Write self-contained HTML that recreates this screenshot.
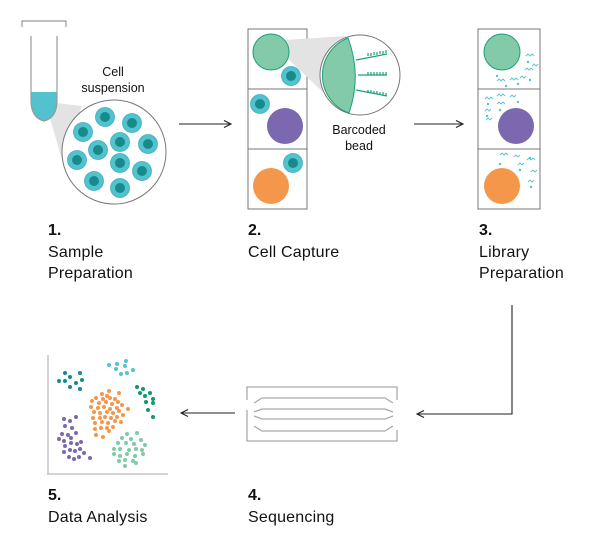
<!DOCTYPE html>
<html><head><meta charset="utf-8"><style>
html,body{margin:0;padding:0;background:#fff;}
svg{display:block}
text{font-family:"Liberation Sans",sans-serif;fill:#111}
.l{font-size:16px;letter-spacing:0.2px}
.b{font-size:16px;font-weight:bold}
.s{font-size:12.5px}
</style></head><body>
<svg width="600" height="551" viewBox="0 0 600 551" xmlns="http://www.w3.org/2000/svg">
<defs>
<marker id="ar" markerWidth="10" markerHeight="10" refX="8" refY="4" orient="auto" markerUnits="userSpaceOnUse"><path d="M1,0.5 L8,4 L1,7.5" fill="none" stroke="#222" stroke-width="1.1"/></marker>
<g id="cell"><circle r="9.5" fill="#52c3ce" stroke="#3fb0bb" stroke-width="0.8"/><circle r="5" fill="#178a8c"/></g>
</defs>

<!-- Panel 1 -->
<path d="M22,27 V21 H66 V27" fill="none" stroke="#999" stroke-width="1.2"/>
<polygon points="46,104 56,103 82,106 62,160" fill="#e3e3e3"/>
<path d="M31,92 H57 V100 Q57,118 44,121 Q31,118 31,100 Z" fill="#52c3ce"/>
<path d="M31,36 V100 Q31,118 44,121 Q57,118 57,100 V36" fill="none" stroke="#999" stroke-width="1.2"/>
<circle cx="114" cy="152" r="52" fill="#fff" stroke="#777" stroke-width="1"/>
<use href="#cell" x="105" y="117"/><use href="#cell" x="132" y="123"/><use href="#cell" x="83" y="132"/>
<use href="#cell" x="120" y="142"/><use href="#cell" x="148" y="144"/><use href="#cell" x="98" y="150"/>
<use href="#cell" x="77" y="160"/><use href="#cell" x="120" y="163"/><use href="#cell" x="142" y="171"/>
<use href="#cell" x="94" y="181"/><use href="#cell" x="120" y="188"/>
<text class="s" x="113" y="76" text-anchor="middle">Cell</text>
<text class="s" x="113" y="92" text-anchor="middle">suspension</text>

<!-- Panel 2 -->
<rect x="248" y="29" width="59" height="180" fill="#fff" stroke="#777" stroke-width="1"/>
<line x1="248" y1="89" x2="307" y2="89" stroke="#777"/><line x1="248" y1="149" x2="307" y2="149" stroke="#777"/>
<polygon points="284,40 289,60 323,92 346,36" fill="#e3e3e3"/>
<circle cx="271" cy="52" r="18" fill="#83cba8" stroke="#1aa07a" stroke-width="1"/>
<use href="#cell" x="291" y="76"/><use href="#cell" x="260" y="104"/>
<circle cx="285" cy="126" r="18" fill="#7c68ae"/>
<use href="#cell" x="293" y="163"/>
<circle cx="271" cy="186" r="18" fill="#f4974a"/>
<circle cx="360" cy="75" r="40" fill="#fff" stroke="#777"/>
<path d="M348,38 Q362,75 349,113 A40,40 0 0 1 348,38 Z" fill="#83cba8" stroke="#1aa07a" stroke-width="1"/>
<g stroke="#1aa07a" stroke-width="1.2" fill="none">
<path d="M356,60 L387,54"/><path d="M358,75 L387,75"/><path d="M356,90 L387,96"/>
<path d="M368,56 v-3 M371,56 v-3 M374,55 v-3 M377,55 v-3 M380,54 v-3 M383,54 v-3 M386,53 v-3"/>
<path d="M368,75 v-3 M371,75 v-3 M374,75 v-3 M377,75 v-3 M380,75 v-3 M383,75 v-3 M386,75 v-3"/>
<path d="M368,93 v-3 M371,93 v-3 M374,94 v-3 M377,94 v-3 M380,95 v-3 M383,95 v-3 M386,96 v-3"/>
</g>
<text class="s" x="359" y="134" text-anchor="middle">Barcoded</text>
<text class="s" x="359" y="150" text-anchor="middle">bead</text>

<!-- Panel 3 -->
<rect x="478" y="29" width="62" height="180" fill="#fff" stroke="#777"/>
<line x1="478" y1="89" x2="540" y2="89" stroke="#777"/><line x1="478" y1="149" x2="540" y2="149" stroke="#777"/>
<circle cx="502" cy="52" r="18" fill="#83cba8" stroke="#1aa07a" stroke-width="1"/>
<circle cx="516" cy="126" r="18" fill="#7c68ae"/>
<circle cx="502" cy="186" r="18" fill="#f4974a"/>
<g stroke="#52c3ce" stroke-width="0.9" fill="none">
<path d="M526,56 l2,-2 2,2 2,-2 2,2"/><path d="M525,70 l2,-2 2,2 2,-2 2,2"/><path d="M532,66 l2,-2 2,2 2,-2"/>
<path d="M497,81 l2,-2 2,2 2,-2 2,2"/><path d="M510,80 l2,-2 2,2 2,-2 2,2"/><path d="M520,78 l2,-2 2,2 2,-2"/>
<path d="M485,99 l2,-2 2,2 2,-2 2,2"/><path d="M497,96 l2,-2 2,2 2,-2 2,2"/><path d="M510,97 l2,-2 2,2 2,-2"/>
<path d="M485,111 l2,-2 2,2 2,-2"/><path d="M497,104 l2,-2 2,2 2,-2 2,2"/><path d="M486,120 l2,-2 2,2 2,-2"/>
<path d="M500,155 l2,-2 2,2 2,-2 2,2"/><path d="M514,157 l2,-2 2,2 2,-2"/><path d="M527,160 l2,-2 2,2 2,-2 2,2"/>
<path d="M518,165 l2,-2 2,2 2,-2"/><path d="M531,172 l2,-2 2,2 2,-2"/><path d="M528,182 l2,-2 2,2 2,-2"/>
</g>
<g fill="#52c3ce">
<circle cx="528" cy="62" r="1.2"/><circle cx="497" cy="76" r="1.2"/><circle cx="506" cy="86" r="1.2"/><circle cx="518" cy="84" r="1.2"/><circle cx="530" cy="80" r="1.2"/>
<circle cx="488" cy="104" r="1.2"/><circle cx="500" cy="110" r="1.2"/><circle cx="518" cy="102" r="1.2"/><circle cx="487" cy="116" r="1.2"/>
<circle cx="500" cy="164" r="1.2"/><circle cx="520" cy="170" r="1.2"/><circle cx="530" cy="158" r="1.2"/><circle cx="531" cy="187" r="1.2"/>
</g>

<!-- arrows -->
<g stroke="#222" stroke-width="1.1" fill="none">
<line x1="179" y1="124" x2="231" y2="124" marker-end="url(#ar)"/>
<line x1="414" y1="124" x2="463" y2="124" marker-end="url(#ar)"/>
<polyline points="512,305 512,414 417,414" marker-end="url(#ar)"/>
<line x1="235" y1="413" x2="181" y2="413" marker-end="url(#ar)"/>
</g>

<!-- Sequencing -->
<g stroke="#aaa" stroke-width="1.3" fill="none">
<path d="M247,400 V387 H397 V400"/>
<path d="M247,410 V441 H397 V430"/>
<path d="M254,403 L262,398 H385 L393,403"/>
<path d="M254,412 L262,409 H385 L393,412"/>
<path d="M254,416 L262,419 H385 L393,416"/>
<path d="M254,426 L262,431 H385 L393,426"/>
</g>

<!-- Scatter -->
<g stroke="#bbb" stroke-width="1.3"><line x1="48" y1="355" x2="48" y2="474"/><line x1="47" y1="474" x2="168" y2="474"/></g>
<g fill="#178a8c"><circle cx="65" cy="373" r="2"/><circle cx="80" cy="373" r="2"/><circle cx="70" cy="377" r="2"/><circle cx="59" cy="381" r="2"/><circle cx="65" cy="381" r="2"/><circle cx="82" cy="380" r="2"/><circle cx="76" cy="383" r="2"/><circle cx="70" cy="387" r="2"/><circle cx="80" cy="389" r="2"/></g>
<g fill="#52c3ce"><circle cx="126" cy="361" r="2"/><circle cx="109" cy="365" r="2"/><circle cx="117" cy="364" r="2"/><circle cx="125" cy="366" r="2"/><circle cx="116" cy="369" r="2"/><circle cx="133" cy="370" r="2"/><circle cx="121" cy="374" r="2"/><circle cx="127" cy="373" r="2"/></g>
<g fill="#0e9a6e"><circle cx="137" cy="387" r="2"/><circle cx="143" cy="389" r="2"/><circle cx="140" cy="393" r="2"/><circle cx="150" cy="393" r="2"/><circle cx="145" cy="396" r="2"/><circle cx="153" cy="399" r="2"/><circle cx="146" cy="402" r="2"/><circle cx="153" cy="403" r="2"/><circle cx="148" cy="410" r="2"/><circle cx="153" cy="417" r="2"/></g>
<g fill="#f4974a">
<circle cx="109" cy="391" r="2"/><circle cx="102" cy="394" r="2"/><circle cx="107" cy="396" r="2"/><circle cx="119" cy="393" r="2"/>
<circle cx="96" cy="398" r="2"/><circle cx="103" cy="399" r="2"/><circle cx="110" cy="398" r="2"/><circle cx="115" cy="399" r="2"/>
<circle cx="92" cy="401" r="2"/><circle cx="99" cy="403" r="2"/><circle cx="106" cy="402" r="2"/><circle cx="112" cy="404" r="2"/><circle cx="118" cy="402" r="2"/>
<circle cx="91" cy="407" r="2"/><circle cx="98" cy="408" r="2"/><circle cx="104" cy="407" r="2"/><circle cx="110" cy="409" r="2"/><circle cx="117" cy="408" r="2"/><circle cx="122" cy="405" r="2"/>
<circle cx="94" cy="412" r="2"/><circle cx="100" cy="413" r="2"/><circle cx="107" cy="412" r="2"/><circle cx="113" cy="413" r="2"/><circle cx="119" cy="411" r="2"/><circle cx="128" cy="409" r="2"/>
<circle cx="93" cy="418" r="2"/><circle cx="100" cy="418" r="2"/><circle cx="105" cy="417" r="2"/><circle cx="111" cy="418" r="2"/><circle cx="117" cy="417" r="2"/><circle cx="123" cy="415" r="2"/>
<circle cx="95" cy="423" r="2"/><circle cx="102" cy="422" r="2"/><circle cx="108" cy="423" r="2"/><circle cx="115" cy="421" r="2"/><circle cx="121" cy="422" r="2"/>
<circle cx="95" cy="429" r="2"/><circle cx="101" cy="428" r="2"/><circle cx="107" cy="428" r="2"/><circle cx="113" cy="427" r="2"/>
<circle cx="96" cy="435" r="2"/><circle cx="103" cy="437" r="2"/><circle cx="109" cy="431" r="2"/>
</g>
<g fill="#7c68ae">
<circle cx="64" cy="419" r="2"/><circle cx="70" cy="421" r="2"/><circle cx="76" cy="417" r="2"/>
<circle cx="65" cy="426" r="2"/><circle cx="72" cy="428" r="2"/>
<circle cx="62" cy="434" r="2"/><circle cx="68" cy="435" r="2"/><circle cx="76" cy="433" r="2"/>
<circle cx="59" cy="439" r="2"/><circle cx="64" cy="441" r="2"/><circle cx="71" cy="438" r="2"/>
<circle cx="65" cy="446" r="2"/><circle cx="71" cy="443" r="2"/><circle cx="77" cy="444" r="2"/><circle cx="81" cy="442" r="2"/>
<circle cx="64" cy="452" r="2"/><circle cx="70" cy="450" r="2"/><circle cx="75" cy="451" r="2"/><circle cx="80" cy="449" r="2"/>
<circle cx="69" cy="457" r="2"/><circle cx="74" cy="459" r="2"/><circle cx="79" cy="457" r="2"/><circle cx="84" cy="453" r="2"/><circle cx="90" cy="458" r="2"/>
</g>
<g fill="#7fcba6">
<circle cx="127" cy="434" r="2"/><circle cx="137" cy="433" r="2"/><circle cx="122" cy="438" r="2"/><circle cx="131" cy="439" r="2"/><circle cx="141" cy="440" r="2"/>
<circle cx="118" cy="443" r="2"/><circle cx="126" cy="443" r="2"/><circle cx="134" cy="444" r="2"/><circle cx="145" cy="445" r="2"/>
<circle cx="114" cy="449" r="2"/><circle cx="120" cy="449" r="2"/><circle cx="129" cy="450" r="2"/><circle cx="136" cy="449" r="2"/><circle cx="142" cy="450" r="2"/>
<circle cx="114" cy="454" r="2"/><circle cx="120" cy="456" r="2"/><circle cx="127" cy="454" r="2"/><circle cx="135" cy="456" r="2"/><circle cx="143" cy="454" r="2"/>
<circle cx="119" cy="461" r="2"/><circle cx="125" cy="460" r="2"/><circle cx="133" cy="461" r="2"/><circle cx="125" cy="466" r="2"/><circle cx="136" cy="463" r="2"/>
</g>

<!-- labels -->
<text class="b" x="48" y="235">1.</text><text class="l" x="48" y="257">Sample</text><text class="l" x="48" y="278">Preparation</text>
<text class="b" x="248" y="235">2.</text><text class="l" x="248" y="257">Cell Capture</text>
<text class="b" x="479" y="235">3.</text><text class="l" x="479" y="257">Library</text><text class="l" x="479" y="278">Preparation</text>
<text class="b" x="248" y="500">4.</text><text class="l" x="248" y="522">Sequencing</text>
<text class="b" x="48" y="500">5.</text><text class="l" x="48" y="522">Data Analysis</text>
</svg>
</body></html>
